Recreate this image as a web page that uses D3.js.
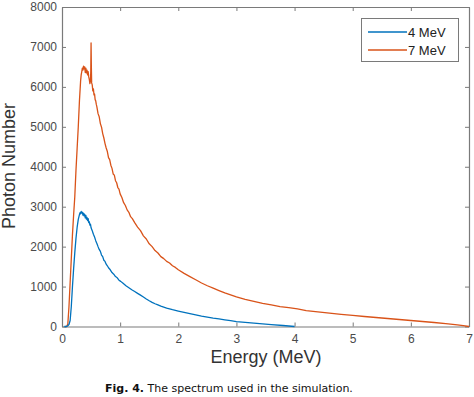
<!DOCTYPE html>
<html><head><meta charset="utf-8">
<script src="https://cdn.jsdelivr.net/npm/d3@7"></script>
<style>
body{margin:0;background:#fff;}
svg{display:block;}
text{font-family:"Liberation Sans",Arial,sans-serif;}
</style></head>
<body><svg id="c" width="474" height="397"></svg>
<script>
const xTicks=[0,1,2,3,4,5,6,7];
const yTicks=[0,1000,2000,3000,4000,5000,6000,7000,8000];
const seriesNames=["4 MeV","7 MeV"];
const seriesColors=["#0072BD","#D95319"];

const e7=[0.06,0.08,0.10,0.12,0.14,0.16,0.18,0.20,0.22,0.24,0.26,0.28,0.30,0.32,0.33,0.34,0.35,0.36,0.37,0.38,0.39,0.40,0.41,0.42,0.43,0.44,0.45,0.46,0.47,0.48,0.49,0.495,0.50,0.505,0.51,0.52,0.53,0.54,0.55,0.56,0.57,0.58,0.59,0.60,0.62,0.64,0.66,0.68,0.70,0.72,0.74,0.76,0.78,0.80,0.82,0.84,0.86,0.88,0.90,0.92,0.94,0.96,0.98,1.00,1.03,1.06,1.09,1.12,1.15,1.18,1.21,1.25,1.30,1.35,1.40,1.45,1.50,1.55,1.60,1.65,1.70,1.75,1.80,1.85,1.90,1.95,2.00,2.10,2.20,2.30,2.40,2.50,2.60,2.70,2.80,2.90,3.00,3.15,3.30,3.45,3.60,3.75,3.90,4.05,4.20,4.40,4.60,4.80,5.00,5.20,5.40,5.60,5.80,6.00,6.20,6.40,6.60,6.80,6.90,7.00];
const n7=[0,0,60,500,1100,1700,2300,2800,3250,3900,4450,5000,5650,6150,6300,6380,6470,6420,6520,6450,6500,6360,6470,6350,6420,6300,6380,6250,6180,6080,6150,6400,7100,6500,6100,6050,5900,5950,5800,5820,5680,5650,5560,5500,5330,5250,5080,4990,4830,4720,4580,4470,4380,4230,4180,4040,3960,3820,3790,3650,3600,3480,3440,3320,3230,3100,3030,2920,2860,2750,2700,2600,2490,2400,2270,2190,2070,2000,1900,1840,1750,1700,1630,1590,1520,1480,1420,1330,1250,1170,1090,1020,960,900,840,790,740,680,630,580,540,500,470,440,400,365,335,305,280,250,225,200,175,150,125,100,70,40,20,0];

const e4=[0.04,0.08,0.10,0.12,0.14,0.16,0.18,0.20,0.22,0.24,0.26,0.28,0.30,0.31,0.32,0.33,0.34,0.35,0.36,0.37,0.38,0.39,0.40,0.41,0.42,0.43,0.44,0.45,0.46,0.47,0.48,0.49,0.50,0.52,0.54,0.56,0.58,0.60,0.62,0.64,0.66,0.68,0.70,0.72,0.74,0.76,0.78,0.80,0.83,0.86,0.89,0.92,0.95,0.98,1.01,1.05,1.10,1.15,1.20,1.25,1.30,1.35,1.40,1.45,1.50,1.55,1.60,1.65,1.70,1.80,1.90,2.00,2.10,2.20,2.30,2.40,2.50,2.60,2.70,2.80,2.90,3.00,3.20,3.40,3.60,3.80,3.90,4.00];
const n4=[0,0,20,50,150,500,1000,1450,1850,2200,2480,2680,2800,2850,2820,2880,2840,2860,2790,2840,2770,2810,2720,2780,2690,2730,2650,2700,2600,2620,2540,2560,2470,2400,2310,2240,2150,2080,2000,1930,1880,1790,1750,1660,1630,1560,1520,1470,1420,1350,1310,1250,1220,1160,1130,1080,1020,970,920,875,830,785,740,690,645,605,570,540,510,460,420,385,352,322,292,262,236,211,190,168,146,122,95,72,48,25,12,0];

const svg=d3.select("#c");
svg.append("rect").attr("width",474).attr("height",397).attr("fill","#fff");
const L=62,R=469,T=7,B=326.5;
const x=d3.scaleLinear().domain([0,7]).range([L,R]);
const y=d3.scaleLinear().domain([0,8000]).range([B,T]);
const axisCol="#7a7a7a", labCol="#4a4a4a";

const gB=svg.append("g").attr("transform",`translate(0,${B})`)
  .call(d3.axisBottom(x).tickValues(xTicks).tickFormat(d3.format("d")).tickSizeInner(-4).tickSizeOuter(0).tickPadding(8));
const gT=svg.append("g").attr("transform",`translate(0,${T})`)
  .call(d3.axisTop(x).tickValues(xTicks).tickFormat("").tickSizeInner(-4).tickSizeOuter(0));
const gL=svg.append("g").attr("transform",`translate(${L},0)`)
  .call(d3.axisLeft(y).tickValues(yTicks).tickFormat(d3.format("d")).tickSizeInner(-4).tickSizeOuter(0).tickPadding(5));
const gR=svg.append("g").attr("transform",`translate(${R},0)`)
  .call(d3.axisRight(y).tickValues(yTicks).tickFormat("").tickSizeInner(-4).tickSizeOuter(0));
[gB,gT,gL,gR].forEach(g=>{
  g.select(".domain").attr("stroke",axisCol).attr("stroke-width",1.2);
  g.selectAll(".tick line").attr("stroke",axisCol).attr("stroke-width",1);
  g.selectAll(".tick text").attr("fill",labCol).style("font-size","12px").style("font-family","Liberation Sans, Arial, sans-serif");
});

const line=d3.line().x(d=>x(d[0])).y(d=>y(d[1]));
const d4=e4.map((e,i)=>[e,n4[i]]);
const d7=e7.map((e,i)=>[e,n7[i]]);
svg.append("path").datum(d7).attr("d",line).attr("fill","none").attr("stroke",seriesColors[1]).attr("stroke-width",1.3).attr("stroke-linejoin","round");
svg.append("path").datum(d4).attr("d",line).attr("fill","none").attr("stroke",seriesColors[0]).attr("stroke-width",1.3).attr("stroke-linejoin","round");

svg.append("text").attr("x",266).attr("y",363).attr("text-anchor","middle").attr("fill","#333").style("font-size","18px").text("Energy (MeV)");
svg.append("text").attr("transform","translate(15,166) rotate(-90)").attr("text-anchor","middle").attr("fill","#333").style("font-size","18px").text("Photon Number");

const lg=svg.append("g");
lg.append("rect").attr("x",361.5).attr("y",18.5).attr("width",97).attr("height",43).attr("fill","#fff").attr("stroke",axisCol).attr("stroke-width",1);
seriesNames.forEach((n,i)=>{
  const yy=32+i*18;
  lg.append("line").attr("x1",368).attr("x2",407).attr("y1",yy).attr("y2",yy).attr("stroke",seriesColors[i]).attr("stroke-width",1.3);
  lg.append("text").attr("x",408).attr("y",yy+4.5).attr("fill","#222").style("font-size","13px").text(n);
});

const cap=svg.append("text").attr("x",105).attr("y",392).attr("fill","#111").style("font-size","11px").style("font-family","'DejaVu Sans',sans-serif");
cap.append("tspan").style("font-weight","bold").text("Fig. 4.");
cap.append("tspan").text(" The spectrum used in the simulation.");
</script></body></html>
